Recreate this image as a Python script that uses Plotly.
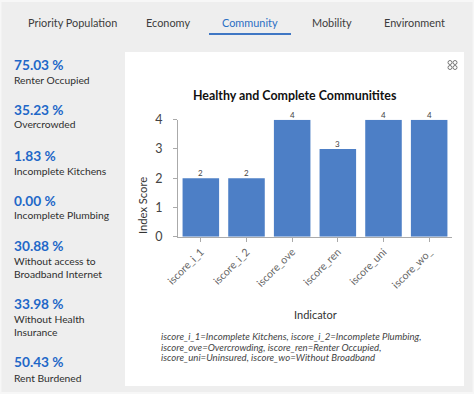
import plotly.graph_objects as go

W, H = 474, 394
FONT = "Lato"

indicators = ["iscore_i_1", "iscore_i_2", "iscore_ove", "iscore_ren", "iscore_uni", "iscore_wo_"]
scores = [2, 2, 4, 3, 4, 4]
tabs = ["Priority Population", "Economy", "Community", "Mobility", "Environment"]
tab_x = [72.5, 168, 250, 331.5, 414]
stat_values = ["75.03 %", "35.23 %", "1.83 %", "0.00 %", "30.88 %", "33.98 %", "50.43 %"]
stat_labels = ["Renter Occupied", "Overcrowded", "Incomplete Kitchens", "Incomplete Plumbing",
               "Without access to<br>Broadband Internet", "Without Health<br>Insurance", "Rent Burdened"]
stat_value_y = [64, 109, 155, 200, 245, 303, 361]
stat_label_y = [80, 125, 171, 216, 268, 326, 378]
note_lines = ["iscore_i_1=Incomplete Kitchens, iscore_i_2=Incomplete Plumbing,",
              "iscore_ove=Overcrowding, iscore_ren=Renter Occupied,",
              "iscore_uni=Uninsured, iscore_wo=Without Broadband"]
note_y = [336, 347, 357.5]

fx = lambda x: x / W
fy = lambda y: 1 - y / H

fig = go.Figure(go.Bar(
    x=indicators, y=scores,
    marker=dict(color="#4d7fc6", line_width=0), width=0.8,
    hoverinfo="x+y",
))

ann = []
def text(x, y, s, size, color, anchor="left", **kw):
    ann.append(dict(x=fx(x), y=fy(y), xref="paper", yref="paper", text=s, showarrow=False,
                    xanchor=anchor, yanchor="middle", align=anchor,
                    font=dict(size=size, color=color, family=FONT), **kw))

for s, x, in zip(tabs, tab_x):
    text(x, 22, s, 10.9, "#2a6fc4" if s == "Community" else "#3c3c3c", "center")
for v, y in zip(stat_values, stat_value_y):
    text(12, y, "<b>%s</b>" % v, 13.7, "#1f68c8")
for l, y in zip(stat_labels, stat_label_y):
    text(12, y - 0.5, l, 10.3, "#2e2e2e")
text(295, 95, "<b>Healthy and Complete Communitites</b>", 12.4, "#111111", "center")
text(315, 314, "Indicator", 11, "#333333", "center")
for l, y in zip(note_lines, note_y):
    text(159, y, "<i>%s</i>" % l, 9.6, "#444444")
text(142, 206, "Index Score", 11.2, "#333333", "center", textangle=-90)
for cat, val in zip(indicators, scores):
    ann.append(dict(x=cat, y=val, xref="x", yref="y", text=str(val), showarrow=False,
                    yanchor="middle", yshift=5, font=dict(size=8, color="#444444", family=FONT)))

shapes = [
    dict(type="rect", xref="paper", yref="paper", x0=fx(1.5), x1=fx(472.5), y0=fy(392), y1=fy(2),
         fillcolor="#eeeeee", line_width=0, layer="below"),
    dict(type="rect", xref="paper", yref="paper", x0=fx(125), x1=fx(464), y0=fy(386), y1=fy(52),
         fillcolor="white", line_width=0, layer="below"),
    dict(type="rect", xref="paper", yref="paper", x0=fx(209), x1=fx(291), y0=fy(35), y1=fy(33),
         fillcolor="#3f77c4", line_width=0),
]
for cx, cy in [(450, 62.5), (455, 62.5), (450, 67.5), (455, 67.5)]:
    shapes.append(dict(type="circle", xref="paper", yref="paper",
                       x0=fx(cx - 2), x1=fx(cx + 2), y0=fy(cy + 2), y1=fy(cy - 2),
                       line=dict(color="#777777", width=1), fillcolor="white"))

fig.update_layout(
    width=W, height=H, autosize=False, margin=dict(l=0, r=0, t=0, b=0, autoexpand=False),
    paper_bgcolor="#f7f7f7", plot_bgcolor="white", showlegend=False,
    bargap=0.2, shapes=shapes, annotations=ann,
    font=dict(family=FONT),
    xaxis=dict(domain=[fx(178), fx(452)], type="category", tickangle=-45, ticks="outside", ticklen=4,
               automargin=False, tickcolor="#aaaaaa", showline=True, linecolor="#aaaaaa", linewidth=1,
               showgrid=False, tickfont=dict(size=10.6, color="#666666", family=FONT)),
    yaxis=dict(domain=[fy(236.7), fy(119.7)], range=[0, 4], tickvals=[0, 1, 2, 3, 4], ticks="outside",
               automargin=False, ticklen=4, tickcolor="#aaaaaa", showline=True, linecolor="#aaaaaa",
               linewidth=1, showgrid=False, zeroline=False, ticklabelstandoff=8,
               tickfont=dict(size=12.5, color="#444444", family=FONT)),
)
fig.write_html("out.html", config=dict(displayModeBar=False),
               post_script="document.body.style.margin='0';")
